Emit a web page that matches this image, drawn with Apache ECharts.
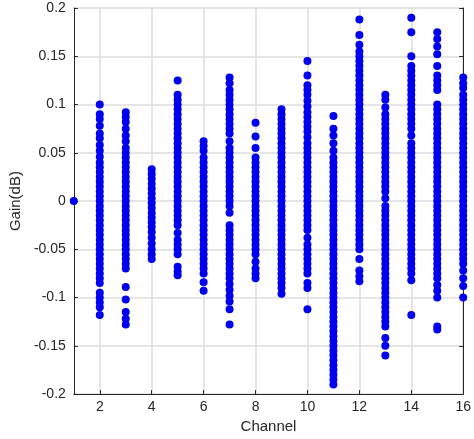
<!DOCTYPE html>
<html>
<head>
<meta charset="utf-8">
<script src="https://cdn.jsdelivr.net/npm/echarts@6/dist/echarts.min.js"></script>
<style>html,body{margin:0;padding:0;background:#fff}#chart{width:474px;height:439px}</style>
</head>
<body>
<div id="chart"></div>
<script>
// gain samples (dB) read per channel
var ch1 = [0];
var ch2 = [0.1,0.09,0.085,0.078,0.07,0.065,0.058,0.052,0.046,0.04,0.035,0.03,0.025,0.02,0.015,0.01,0.005,0,-0.005,-0.01,-0.015,-0.02,-0.025,-0.03,-0.035,-0.04,-0.045,-0.05,-0.055,-0.06,-0.065,-0.07,-0.075,-0.08,-0.085,-0.095,-0.1,-0.105,-0.11,-0.118];
var ch3 = [0.092,0.087,0.082,0.075,0.068,0.062,0.055,0.05,0.045,0.04,0.035,0.03,0.025,0.02,0.015,0.01,0.005,0,-0.005,-0.01,-0.015,-0.02,-0.025,-0.03,-0.035,-0.04,-0.045,-0.05,-0.055,-0.06,-0.065,-0.07,-0.089,-0.102,-0.115,-0.122,-0.128];
var ch4 = [0.033,0.028,0.023,0.018,0.013,0.008,0.003,-0.002,-0.007,-0.012,-0.017,-0.022,-0.027,-0.032,-0.038,-0.044,-0.05,-0.055,-0.06];
var ch5 = [0.125,0.11,0.105,0.1,0.095,0.09,0.085,0.08,0.075,0.07,0.065,0.06,0.055,0.05,0.045,0.04,0.035,0.03,0.025,0.02,0.015,0.01,0.005,0,-0.005,-0.01,-0.015,-0.02,-0.025,-0.033,-0.04,-0.045,-0.05,-0.055,-0.068,-0.073,-0.077];
var ch6 = [0.062,0.057,0.052,0.045,0.04,0.035,0.03,0.025,0.02,0.015,0.01,0.005,0,-0.005,-0.01,-0.015,-0.02,-0.025,-0.03,-0.035,-0.04,-0.045,-0.05,-0.055,-0.06,-0.065,-0.07,-0.075,-0.084,-0.093];
var ch7 = [0.128,0.122,0.115,0.11,0.105,0.1,0.095,0.09,0.085,0.08,0.075,0.07,0.062,0.055,0.05,0.045,0.04,0.035,0.03,0.025,0.02,0.015,0.01,0.005,0,-0.005,-0.012,-0.025,-0.03,-0.035,-0.04,-0.045,-0.05,-0.055,-0.06,-0.065,-0.07,-0.075,-0.08,-0.086,-0.092,-0.098,-0.104,-0.112,-0.128];
var ch8 = [0.081,0.067,0.055,0.045,0.04,0.035,0.03,0.025,0.02,0.015,0.01,0.005,0,-0.005,-0.01,-0.015,-0.02,-0.025,-0.03,-0.035,-0.04,-0.045,-0.05,-0.055,-0.063,-0.07,-0.075,-0.08];
var ch9 = [0.095,0.09,0.085,0.08,0.075,0.07,0.065,0.06,0.055,0.05,0.045,0.04,0.035,0.03,0.025,0.02,0.015,0.01,0.005,0,-0.005,-0.01,-0.015,-0.02,-0.025,-0.03,-0.035,-0.04,-0.045,-0.05,-0.055,-0.06,-0.065,-0.07,-0.075,-0.08,-0.085,-0.09,-0.096];
var ch10 = [0.145,0.13,0.12,0.115,0.11,0.104,0.098,0.092,0.087,0.082,0.077,0.072,0.066,0.06,0.055,0.05,0.045,0.04,0.035,0.03,0.025,0.02,0.015,0.01,0.005,0,-0.005,-0.01,-0.015,-0.02,-0.025,-0.03,-0.038,-0.045,-0.05,-0.055,-0.06,-0.065,-0.07,-0.075,-0.085,-0.09,-0.112];
var ch11 = [0.088,0.075,0.068,0.06,0.052,0.045,0.04,0.035,0.03,0.025,0.02,0.015,0.01,0.005,0,-0.005,-0.01,-0.015,-0.02,-0.025,-0.03,-0.035,-0.04,-0.045,-0.05,-0.055,-0.06,-0.065,-0.07,-0.075,-0.08,-0.085,-0.09,-0.095,-0.1,-0.105,-0.11,-0.115,-0.12,-0.125,-0.13,-0.135,-0.14,-0.145,-0.15,-0.155,-0.16,-0.165,-0.17,-0.175,-0.18,-0.185,-0.19];
var ch12 = [0.188,0.172,0.162,0.155,0.15,0.145,0.14,0.135,0.13,0.125,0.12,0.115,0.11,0.105,0.1,0.095,0.09,0.085,0.08,0.075,0.07,0.065,0.06,0.055,0.05,0.045,0.04,0.035,0.03,0.025,0.02,0.015,0.01,0.005,0,-0.005,-0.01,-0.015,-0.02,-0.025,-0.03,-0.035,-0.04,-0.045,-0.05,-0.06,-0.072,-0.078,-0.083];
var ch13 = [0.11,0.105,0.097,0.09,0.085,0.08,0.075,0.07,0.065,0.06,0.055,0.05,0.045,0.04,0.035,0.03,0.025,0.02,0.015,0.01,0.003,-0.005,-0.01,-0.015,-0.02,-0.025,-0.03,-0.035,-0.04,-0.045,-0.05,-0.055,-0.06,-0.065,-0.07,-0.075,-0.08,-0.085,-0.09,-0.095,-0.1,-0.105,-0.11,-0.115,-0.12,-0.125,-0.13,-0.142,-0.15,-0.16];
var ch14 = [0.19,0.175,0.15,0.14,0.135,0.13,0.125,0.12,0.115,0.11,0.105,0.1,0.095,0.09,0.085,0.08,0.075,0.068,0.06,0.055,0.05,0.045,0.04,0.035,0.03,0.025,0.02,0.015,0.01,0.005,0,-0.005,-0.01,-0.015,-0.02,-0.025,-0.03,-0.035,-0.04,-0.045,-0.05,-0.055,-0.06,-0.065,-0.07,-0.075,-0.082,-0.118];
var ch15 = [0.175,0.168,0.16,0.152,0.14,0.13,0.125,0.12,0.115,0.1,0.095,0.09,0.085,0.08,0.075,0.07,0.065,0.06,0.055,0.05,0.045,0.04,0.035,0.03,0.025,0.02,0.015,0.01,0.005,0,-0.005,-0.01,-0.015,-0.02,-0.025,-0.03,-0.035,-0.04,-0.045,-0.05,-0.055,-0.06,-0.065,-0.07,-0.075,-0.08,-0.087,-0.093,-0.1,-0.13,-0.133];
var ch16 = [0.128,0.122,0.117,0.11,0.105,0.1,0.095,0.09,0.085,0.08,0.075,0.07,0.065,0.06,0.055,0.05,0.045,0.04,0.035,0.03,0.025,0.02,0.015,0.01,0.005,0,-0.005,-0.01,-0.015,-0.02,-0.025,-0.03,-0.035,-0.04,-0.045,-0.05,-0.055,-0.06,-0.065,-0.072,-0.08,-0.088,-0.1];
var channels = [ch1,ch2,ch3,ch4,ch5,ch6,ch7,ch8,ch9,ch10,ch11,ch12,ch13,ch14,ch15,ch16];
var xTicks = [2,4,6,8,10,12,14,16];

var points = [];
for (var i = 0; i < channels.length; i++) {
	for (var j = 0; j < channels[i].length; j++) {
		points.push([i + 1, channels[i][j]]);
	}
}

var myChart = echarts.init(document.getElementById('chart'));
var axisText = {color: '#262626', fontSize: 14, fontFamily: 'Liberation Sans'};
var nameText = {color: '#262626', fontSize: 15, fontFamily: 'Liberation Sans'};
var grid = {show: true, lineStyle: {color: '#dcdcdc', width: 1.5}};
var option = {
	animation: false,
	grid: {left: 62, right: 9, top: 8, bottom: 44},
	xAxis: {
		type: 'value', min: 1, max: 16,
		name: 'Channel', nameLocation: 'middle', nameGap: 22, nameTextStyle: nameText,
		axisLine: {onZero: false, lineStyle: {color: '#262626'}},
		axisTick: {inside: true, length: 4, customValues: xTicks, lineStyle: {color: '#262626'}},
		axisLabel: Object.assign({margin: 6, customValues: xTicks}, axisText),
		splitLine: {show: false}
	},
	yAxis: [{
		type: 'value', min: -0.2, max: 0.2, interval: 0.05,
		name: 'Gain(dB)', nameLocation: 'middle', nameGap: 44, nameTextStyle: nameText,
		axisLine: {show: true, lineStyle: {color: '#262626'}},
		axisTick: {inside: true, length: 4, lineStyle: {color: '#262626'}},
		axisLabel: Object.assign({margin: 8, formatter: function (v) { return Math.round(v * 100) / 100; }}, axisText),
		splitLine: grid
	}, {
		type: 'value', min: -0.2, max: 0.2, interval: 0.05, position: 'right',
		axisLine: {show: true, lineStyle: {color: '#262626'}},
		axisTick: {inside: true, length: 4, lineStyle: {color: '#262626'}},
		axisLabel: {show: false}, splitLine: {show: false}
	}],
	series: [{
		type: 'scatter',
		data: points,
		symbolSize: 8,
		itemStyle: {color: '#0000ee', opacity: 1},
		clip: false,
		markLine: {
			silent: true, symbol: 'none', label: {show: false},
			lineStyle: {color: '#dcdcdc', width: 1.5, type: 'solid'},
			data: xTicks.map(function (v) { return {xAxis: v}; }),
			z: -1
		}
	}]
};
myChart.setOption(option);
</script>
</body>
</html>
